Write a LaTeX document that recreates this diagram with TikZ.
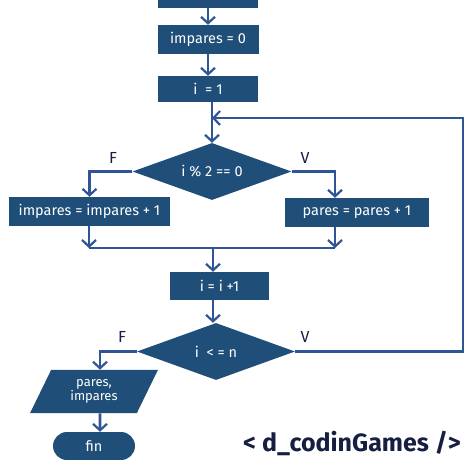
\documentclass[tikz,border=0pt]{standalone}
\usepackage{fontspec}
\setmainfont{Fira Sans}
\usetikzlibrary{shapes.geometric,shapes.misc,arrows.meta}
\definecolor{boxblue}{RGB}{31,78,121}
\definecolor{lineblue}{RGB}{47,85,151}
\definecolor{inkblue}{RGB}{22,30,66}
\tikzset{
	blk/.style={rectangle,fill=boxblue,text=white,inner sep=0pt,font=\fontsize{14.5}{15}\selectfont},
	cond/.style={blk,diamond,aspect=2.8},
	io/.style={blk,trapezium,trapezium left angle=64,trapezium right angle=116,align=center,font=\fontsize{13}{14}\selectfont},
	term/.style={blk,rounded rectangle},
	line/.style={lineblue,line width=2.6pt},
	arr/.style={line,-{Straight Barb[length=6.5pt,width=14pt,line width=2.2pt]}},
	lbl/.style={text=inkblue,font=\fontsize{16}{17}\selectfont}
}
\begin{document}
\begin{tikzpicture}[x=1pt,y=-1pt]
\useasboundingbox (0,0) rectangle (474,460);
\clip (0,0) rectangle (474,460);
\node[blk,minimum width=100,minimum height=28] (prev) at (208,-6) {};
\node[blk,minimum width=101,minimum height=29] (imp0) at (208,39.5) {impares = 0};
\node[blk,minimum width=100,minimum height=26] (i1) at (208,89) {i\ \ = 1};
\node[cond,minimum width=159,minimum height=57] (cond1) at (212,171.5) {i \% 2 == 0};
\node[blk,minimum width=161,minimum height=29] (impi) at (89.5,211.5) {impares = impares + 1};
\node[blk,minimum width=144,minimum height=29] (pari) at (357,212.5) {pares = pares + 1};
\node[blk,minimum width=99,minimum height=28] (inc) at (219.5,286) {i = i +1};
\node[cond,minimum width=158,minimum height=57] (cond2) at (216,351.5) {i\ \ < = n};
\node[io,minimum width=128,minimum height=37] (out) at (94,391.5) {pares,\\impares};
\node[term,minimum width=82,minimum height=28] (fin) at (94,446) {fin};
\node[lbl] (f1) at (113,158) {F};
\node[lbl] (v1) at (305,158) {V};
\node[lbl] (f2) at (122,337) {F};
\node[lbl] (v2) at (305,337) {V};
\node[text=inkblue,font=\fontsize{25}{26}\selectfont\bfseries] (brand) at (352,443) {< d\_codinGames />};
\coordinate (loopin) at (212,118);
\coordinate (mL) at (89,248);
\coordinate (mR) at (335,248);
\coordinate (mC) at (213,248);
\draw[arr] (prev.south) -- (imp0.north);
\draw[arr] (imp0.south) -- (i1.north);
\draw[arr] (i1.south -| cond1.north) -- (cond1.north);
\draw[arr] (cond1.west) -| (impi.north);
\draw[arr] (cond1.east) -| (mR |- pari.north);
\draw[arr] (impi.south -| mL) -- (mL);
\draw[arr] (pari.south -| mR) -- (mR);
\draw[line] (mL) -- (mR);
\draw[arr] (mC) -- (mC |- inc.north);
\draw[arr] (mC |- inc.south) -- (mC |- cond2.north);
\draw[arr] (cond2.east) -| (463,118) -- (loopin);
\draw[arr] (cond2.west) -| ([xshift=6pt]out.north);
\draw[arr] ([xshift=6pt]out.south) -- ([xshift=6pt]fin.north);
\end{tikzpicture}
\end{document}
